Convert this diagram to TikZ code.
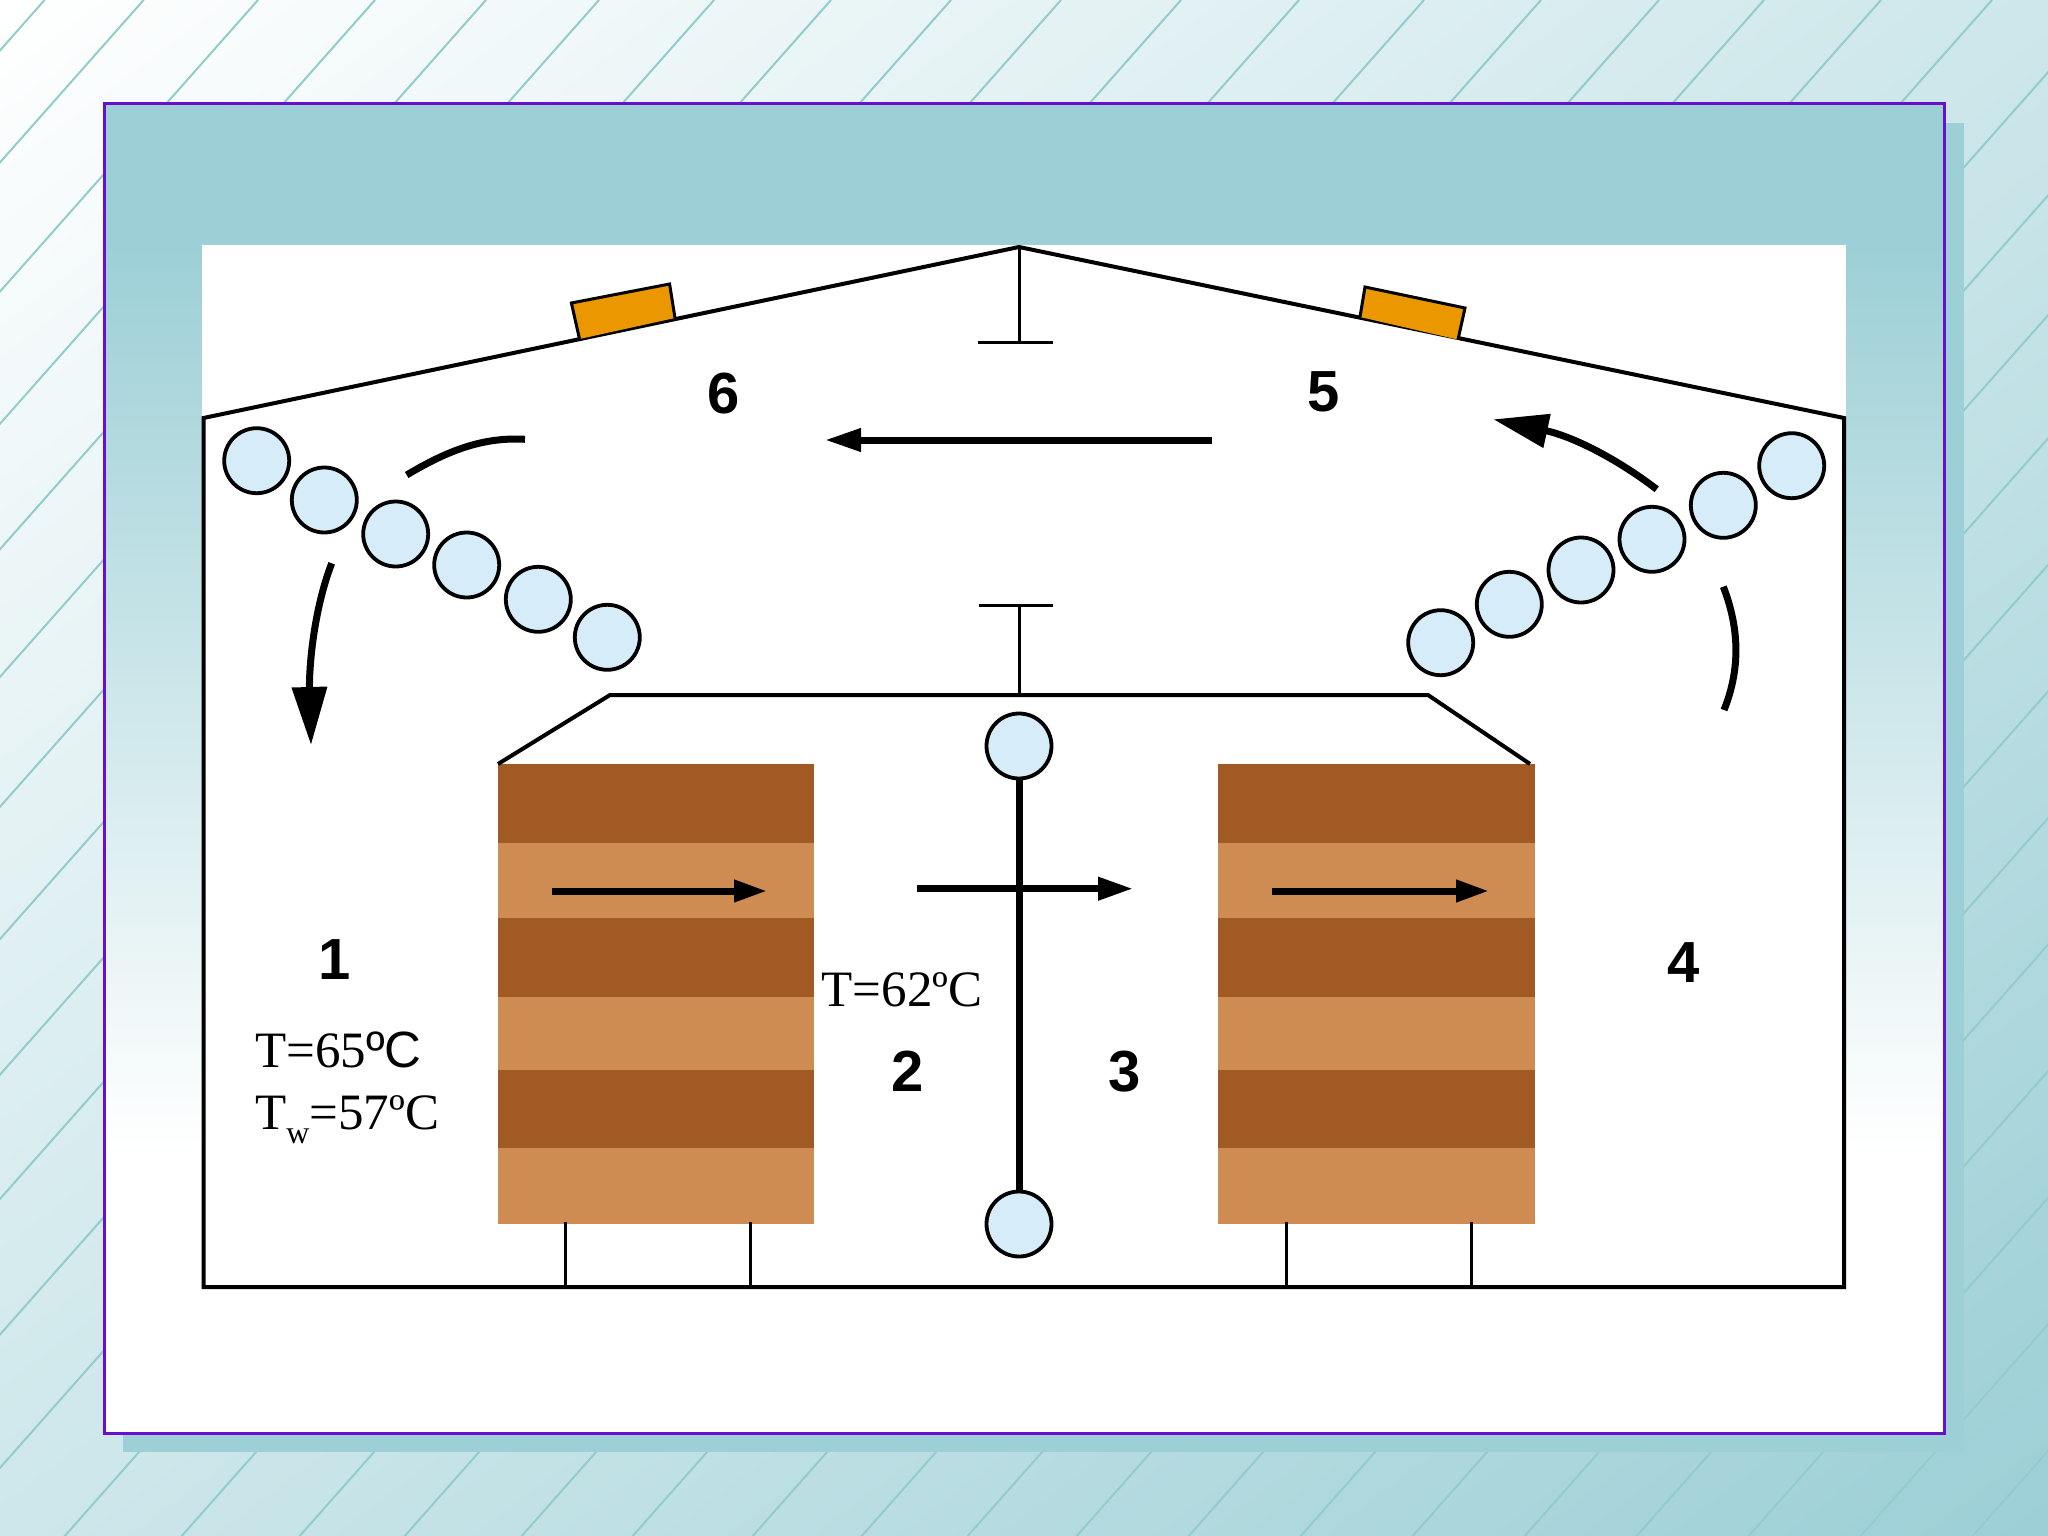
\documentclass[tikz,border=0pt]{standalone}
\usepackage{fontspec}
\setmainfont{Liberation Serif}
\newfontfamily\labelsans{Liberation Sans}
\usetikzlibrary{arrows.meta}
\definecolor{teal1}{HTML}{9CCFD6}
\definecolor{hatchc}{HTML}{93CCCC}
\definecolor{framec}{HTML}{6A0FD0}
\definecolor{darkb}{HTML}{A25A24}
\definecolor{lightb}{HTML}{CF8C52}
\definecolor{ballc}{HTML}{D6ECF8}
\definecolor{orangec}{HTML}{EB9800}
\tikzset{
  ball/.style={circle,draw=black,line width=3.8pt,fill=ballc,minimum size=65pt,inner sep=0pt},
  wall/.style={draw=black,line width=4pt,line join=miter},
  thin wall/.style={draw=black,line width=3pt},
  flow/.style={line width=7pt,draw=black},
  darkband/.style={fill=darkb},
  lightband/.style={fill=lightb},
  num/.style={font=\labelsans\bfseries\fontsize{58}{58}\selectfont,inner sep=0pt},
  temp/.style={font=\fontsize{51}{51}\selectfont,inner sep=0pt,anchor=base west},
  lamp/.style={fill=orangec,draw=black,line width=3pt}
}
\begin{document}
\begin{tikzpicture}[x=1pt,y=-1pt]
\useasboundingbox (0,0) rectangle (2048,1536);
\begin{scope}
\clip (0,0) rectangle (2048,1536);
\begin{scope}[x=1pt,y=1pt,transform canvas={shift={(1024pt,-768pt)},rotate=36.87}]
\shade[top color=white,bottom color=teal1] (-1800,-1229) rectangle (1800,1229);
\end{scope}
\foreach \t in {44.6,143.7,258,375,486,599,714,831,951,1061,1181,1299,1424,1541,1659,1764,1881,1992,2112,2221,2327,2436,2548,2660,2772,2884,2996,3108,3220,3332,3444,3556}
  \draw[hatchc,line width=2pt] (\t,0) -- ({\t-1700},{1700*1.13});
\end{scope}
% shadow and frame
\fill[teal1] (123,123) rectangle (1964,1452);
\fill[teal1] (104,103.5) rectangle (1944,240);
\shade[top color=teal1,bottom color=white] (104,240) rectangle (1944,1150);
\fill[white] (104,1150) rectangle (1944,1433);
\draw[framec,line width=3pt] (104,103.5) rectangle (1944,1433);
\fill[white] (201.5,245) rectangle (1846,1290);
% bricks
\foreach \x/\r in {498/814,1218/1535}{
  \fill[lightband] (\x,764) rectangle (\r,1224);
  \fill[darkband] (\x,764) rectangle (\r,843);
  \fill[darkband] (\x,918) rectangle (\r,997);
  \fill[darkband] (\x,1070) rectangle (\r,1148);
}
% building
\draw[wall] (203.5,1287) -- (203.5,418) -- (1019,247) -- (1844,418) -- (1844,1287) -- cycle;
\draw[lamp] (579.5,339) -- (571.4,303) -- (669.6,284) -- (675,318);
\draw[lamp] (1360,317) -- (1365,287) -- (1465,308) -- (1458,339.6);
\draw[thin wall] (1019,247) -- (1019,342);
\draw[thin wall] (978,342) -- (1053,342);
\draw[thin wall] (979,605) -- (1053,605);
\draw[thin wall] (1019,605) -- (1019,695);
\draw[wall] (498,764) -- (610,695) -- (1428,695) -- (1530,764);
\foreach \x in {565,750,1286.5,1471.5}
  \draw[thin wall] (\x,1222) -- (\x,1287);
% balls
\foreach \n/\x/\y in {l1/256.7/460.7,l2/324.3/500,l3/395.7/534,l4/466.7/565,l5/538.3/599.3,l6/607.3/637.3,
  r1/1440.7/642.7,r2/1509.3/604.3,r3/1581/570,r4/1652/539.3,r5/1723.3/505.3,r6/1791.7/465.7,
  ct/1019/746,cb/1019/1224}
  \node[ball] (\n) at (\x,\y) {};
\draw[line width=7pt] (ct) -- (cb);
% flow arrows
\coordinate (a1s) at (331.7,563.3);
\coordinate (a1e) at (311,745);
\draw[flow,-{Triangle[length=58pt,width=34pt]}] (a1s) .. controls (313,612) and (309,670) .. (a1e);
\coordinate (a2s) at (406.7,475);
\coordinate (a2e) at (525,439.3);
\draw[flow] (a2s) .. controls (450,449) and (485,437) .. (a2e);
\coordinate (a3s) at (1656.7,489.3);
\coordinate (a3e) at (1493.3,419.3);
\draw[flow,-{Triangle[length=55pt,width=33pt]}] (a3s) .. controls (1620,461) and (1575,437) .. (a3e);
\coordinate (a4s) at (1723.3,586.7);
\coordinate (a4e) at (1724,710);
\draw[flow] (a4s) .. controls (1740,630) and (1740,670) .. (a4e);
\coordinate (a5s) at (1212,440);
\coordinate (a5e) at (825,440);
\draw[flow,-{Triangle[length=36pt,width=22pt]}] (a5s) -- (a5e);
\coordinate (a6s) at (916.7,888.7);
\coordinate (a6e) at (1133,888.7);
\draw[flow,-{Triangle[length=35pt,width=22pt]}] (a6s) -- (a6e);
\coordinate (a7s) at (552,891);
\coordinate (a7e) at (767,891);
\draw[flow,-{Triangle[length=33pt,width=21pt]}] (a7s) -- (a7e);
\coordinate (a8s) at (1272,891);
\coordinate (a8e) at (1489,891);
\draw[flow,-{Triangle[length=33pt,width=21pt]}] (a8s) -- (a8e);
% numbers
\node[num] (n1) at (335,960) {1};
\node[num] (n2) at (908,1071) {2};
\node[num] (n3) at (1125,1072) {3};
\node[num] (n4) at (1684,962.6) {4};
\node[num] (n5) at (1324,392) {5};
\node[num] (n6) at (724,394) {6};
% temperatures
\node[temp] (t1) at (255,1067) {T=65{\labelsans ºC}};
\node[temp] (t2) at (255,1129) {T\raisebox{-14pt}{\fontsize{32}{32}\selectfont w}=57ºC};
\node[temp] (t3) at (821.4,1006.7) {T=62ºC};
\end{tikzpicture}
\end{document}
